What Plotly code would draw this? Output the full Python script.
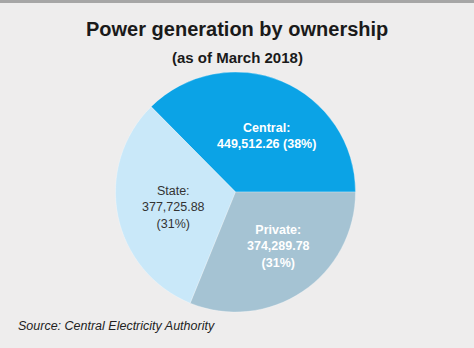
import plotly.graph_objects as go

categories = ["Central", "State", "Private"]
values = [449512.26, 377725.88, 374289.78]
percents = ["38%", "31%", "31%"]
colors = ["#0ba3e6", "#c9e8f9", "#a5c3d3"]

title_text = "Power generation by ownership"
subtitle_text = "(as of March 2018)"
source_text = "Source: Central Electricity Authority"

W, H = 474, 348
FONT = "Liberation Sans, Arial, sans-serif"

# first slice (Central) begins at 3 o'clock and runs counterclockwise
total = sum(values)
rotation = 90 - 360 * values[0] / total

fig = go.Figure()
fig.add_trace(go.Pie(
    labels=categories,
    values=values,
    sort=False,
    direction="counterclockwise",
    rotation=rotation,
    marker=dict(colors=colors, line=dict(color="rgba(255,255,255,0.45)", width=0.6)),
    textinfo="none",
    hoverinfo="label+value+percent",
    showlegend=False,
    domain=dict(x=[115.5 / W, 355.5 / W], y=[(H - 312) / H, (H - 72) / H]),
))

def fmt(v):
    return f"{v:,.2f}"

label_specs = [
    dict(lines=[f"{categories[0]}:", f"{fmt(values[0])} ({percents[0]})"],
         x=266, y=136, color="white", bold=True),
    dict(lines=[f"{categories[1]}:", f"{fmt(values[1])}", f"({percents[1]})"],
         x=173, y=207, color="#333333", bold=False),
    dict(lines=[f"{categories[2]}:", f"{fmt(values[2])}", f"({percents[2]})"],
         x=278, y=246, color="white", bold=True),
]
annotations = []
for s in label_specs:
    txt = "<br>".join(s["lines"])
    if s["bold"]:
        txt = "<b>" + txt + "</b>"
    annotations.append(dict(
        text=txt, x=s["x"] / W, y=(H - s["y"]) / H, xref="paper", yref="paper",
        xanchor="center", yanchor="middle", showarrow=False, align="center",
        font=dict(family=FONT, size=12.5, color=s["color"]),
    ))

annotations.append(dict(
    text="<b>" + title_text + "</b>", x=237 / W, y=(H - 29) / H, xref="paper", yref="paper",
    xanchor="center", yanchor="middle", showarrow=False,
    font=dict(family=FONT, size=20, color="#1a1a1a"),
))
annotations.append(dict(
    text="<b>" + subtitle_text + "</b>", x=237 / W, y=(H - 57) / H, xref="paper", yref="paper",
    xanchor="center", yanchor="middle", showarrow=False,
    font=dict(family=FONT, size=15, color="#1a1a1a"),
))
annotations.append(dict(
    text="<i>" + source_text + "</i>", x=16 / W, y=(H - 326) / H, xref="paper", yref="paper",
    xanchor="left", yanchor="middle", showarrow=False,
    font=dict(family=FONT, size=12.5, color="#222222"),
))

fig.update_layout(
    width=W, height=H,
    margin=dict(l=0, r=0, t=0, b=0),
    paper_bgcolor="#eeeded",
    plot_bgcolor="#eeeded",
    annotations=annotations,
    shapes=[dict(type="rect", xref="paper", yref="paper", x0=0, x1=1,
                 y0=1 - 3 / H, y1=1, fillcolor="#a6a6a6", line=dict(width=0))],
)

fig.write_html("out.html")
